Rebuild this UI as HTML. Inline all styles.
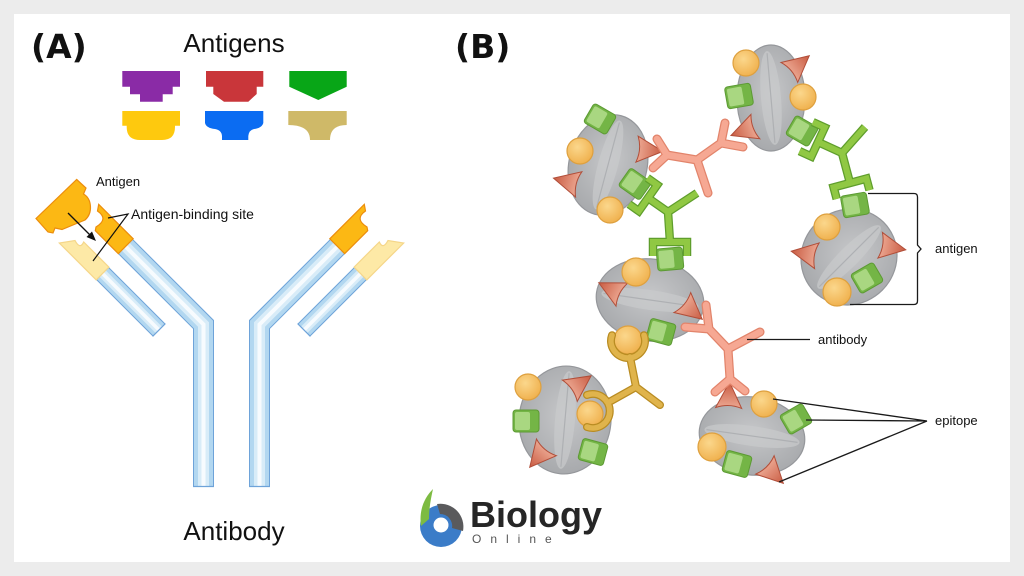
<!DOCTYPE html>
<html><head><meta charset="utf-8">
<style>
html,body{margin:0;padding:0;background:#ececec;}
svg{display:block;}
</style></head>
<body>
<svg width="1024" height="576" viewBox="0 0 1024 576" xmlns="http://www.w3.org/2000/svg">
<defs>
 <radialGradient id="bg" cx="50%" cy="45%" r="60%">
  <stop offset="0" stop-color="#c6c7c9"/><stop offset="1" stop-color="#a5a7aa"/>
 </radialGradient>
 <radialGradient id="yg" cx="40%" cy="35%" r="65%">
  <stop offset="0" stop-color="#fbd78c"/><stop offset="1" stop-color="#f0b250"/>
 </radialGradient>
 <linearGradient id="cg" x1="0" y1="0" x2="1" y2="0">
  <stop offset="0" stop-color="#eca892"/><stop offset="1" stop-color="#c95b42"/>
 </linearGradient>
 <g id="cone"><path d="M-10,-13 L16,0 L-10,13 Q-5,0 -10,-13 Z" fill="url(#cg)" stroke="#b14e39" stroke-width="1"/></g>
 <g id="cube"><rect x="-13" y="-11" width="26" height="22" rx="3" fill="#74b546" stroke="#5c9a33" stroke-width="1"/><rect x="-11" y="-9" width="15" height="18" rx="2" fill="#a9d781"/></g>
 <g id="half">
  <g fill="none" stroke-linejoin="miter">
   <polyline points="125.5,246.5 203.5,324.5 203.5,487" stroke="#6ea3d9" stroke-width="21"/>
   <polyline points="125.5,246.5 203.5,324.5 203.5,487" stroke="#b2d7f0" stroke-width="19"/>
   <polyline points="125.5,246.5 203.5,324.5 203.5,487" stroke="#d8ecf8" stroke-width="11"/>
   <polyline points="125.5,246.5 203.5,324.5 203.5,487" stroke="#f7fbfe" stroke-width="4"/>
   <line x1="193" y1="486.5" x2="214" y2="486.5" stroke="#6ea3d9" stroke-width="1.2"/>
   <line x1="102.5" y1="273.5" x2="159" y2="330" stroke="#6ea3d9" stroke-width="18"/>
   <line x1="102.5" y1="273.5" x2="159" y2="330" stroke="#b2d7f0" stroke-width="16"/>
   <line x1="102.5" y1="273.5" x2="159" y2="330" stroke="#d8ecf8" stroke-width="9"/>
   <line x1="102.5" y1="273.5" x2="159" y2="330" stroke="#f7fbfe" stroke-width="3.5"/>
   <line x1="165.4" y1="323.6" x2="152.6" y2="336.4" stroke="#6ea3d9" stroke-width="1.2"/>
  </g>
  <path d="M118.3,253.7 L133.2,238.8 L98.7,204.3 L97.5,211 Q109,219 96,227 L95.3,230.7 Z" fill="#fcb814" stroke="#ec8d0c" stroke-width="1.2"/>
  <path d="M96.2,279.9 L59.3,243 L75,240.5 Q80,250 83.7,242 L108.9,267.1 Z" fill="#fde9a6" stroke="#f5d689" stroke-width="1.2"/>
 </g>
</defs>

<rect x="14" y="14" width="996" height="548" fill="#ffffff"/>

<!-- ===== Panel A ===== -->
<text x="31" y="58" font-family="DejaVu Sans, 'Liberation Sans', sans-serif" font-weight="bold" font-size="33" fill="#111">(A)</text>
<text x="234" y="52" text-anchor="middle" font-family="'Liberation Sans', sans-serif" font-size="26" fill="#111">Antigens</text>

<path d="M122.3,71 H180 V86.7 H172.7 V94.3 H162.7 V101.7 H140 V94.3 H130 V86.7 H122.3 Z" fill="#8a2ba6"/>
<path d="M206,71 H263.3 V86.7 H256.7 V94 L248.3,101.7 H224 L213.3,94 V86.7 H206 Z" fill="#c9363a"/>
<path d="M289.3,71 H346.7 V86.7 L318.3,100 L289.3,86.7 Z" fill="#08a617"/>
<path d="M122.3,111 H180 V125.7 H175 V127 Q175,140 162,140 H140 Q126.7,140 126.7,127 V125.7 H122.3 Z" fill="#fec90e"/>
<path d="M205,111 H263.3 V123 Q262,128 254,129 Q249,130 248.3,136 V140 H222 V136 Q221.5,130 215,129 Q206,128 205,123 Z" fill="#0b6cf2"/>
<path d="M288.3,111 H346.7 V125 Q330,125 330,140 H310 Q310,125 288.3,125 Z" fill="#cfb968"/>

<use href="#half"/>
<use href="#half" transform="matrix(-1,0,0,1,463,0)"/>

<!-- loose antigen -->
<path d="M36,218.5 L76.7,179.5 L86,188 L83.5,194 C92,199 93,213 85,220 L62,229.5 L55,228 L53,233 L48,232 Z" fill="#fcb814" stroke="#ec8d0c" stroke-width="1.2"/>
<line x1="68" y1="213" x2="91" y2="236" stroke="#111" stroke-width="1.3"/>
<path d="M96,241 L86.5,237 L92,231.5 Z" fill="#111"/>
<path d="M108,218 L128,214 L93,261" fill="none" stroke="#111" stroke-width="1.2"/>
<text x="96" y="186" font-family="'Liberation Sans', sans-serif" font-size="13" fill="#111">Antigen</text>
<text x="131" y="219" font-family="'Liberation Sans', sans-serif" font-size="14" fill="#111">Antigen-binding site</text>

<text x="234" y="540" text-anchor="middle" font-family="'Liberation Sans', sans-serif" font-size="26" fill="#111">Antibody</text>

<!-- ===== Panel B ===== -->
<text x="455" y="58" font-family="DejaVu Sans, 'Liberation Sans', sans-serif" font-weight="bold" font-size="33" fill="#111">(B)</text>

<!-- Blob 1 -->
<g transform="translate(771,98)">
 <ellipse rx="34" ry="53" fill="url(#bg)" stroke="#95979b" stroke-width="1.2"/>
 <ellipse rx="10" ry="47" fill="#c9cacc" opacity="0.7" transform="rotate(-5)"/>
 <line x1="0" y1="-45" x2="0" y2="45" stroke="#aeb0b3" stroke-width="1.2" transform="rotate(-5)"/>
</g>
<use href="#cone" transform="translate(797,66) rotate(-40)"/>
<use href="#cone" transform="translate(746,130) rotate(160)"/>
<use href="#cube" transform="translate(739,96) rotate(-10)"/>
<use href="#cube" transform="translate(802,131) rotate(30)"/>
<circle cx="746" cy="63" r="13" fill="url(#yg)" stroke="#dea03e" stroke-width="1.2"/>
<circle cx="803" cy="97" r="13" fill="url(#yg)" stroke="#dea03e" stroke-width="1.2"/>

<!-- Blob 2 -->
<g transform="translate(608,165) rotate(15)">
 <ellipse rx="39" ry="51" fill="url(#bg)" stroke="#95979b" stroke-width="1.2"/>
 <ellipse rx="10" ry="46" fill="#c9cacc" opacity="0.7"/>
 <line x1="0" y1="-44" x2="0" y2="44" stroke="#aeb0b3" stroke-width="1.2"/>
</g>
<use href="#cone" transform="translate(647,150) rotate(5)"/>
<use href="#cone" transform="translate(569,182) rotate(194)"/>
<use href="#cube" transform="translate(600,119) rotate(30)"/>
<use href="#cube" transform="translate(635,184) rotate(35)"/>
<circle cx="580" cy="151" r="13" fill="url(#yg)" stroke="#dea03e" stroke-width="1.2"/>
<circle cx="610" cy="210" r="13" fill="url(#yg)" stroke="#dea03e" stroke-width="1.2"/>

<!-- Blob 3 -->
<g transform="translate(650,300) rotate(8)">
 <ellipse rx="54" ry="41" fill="url(#bg)" stroke="#95979b" stroke-width="1.2"/>
 <ellipse rx="49" ry="10" fill="#c9cacc" opacity="0.7"/>
 <line x1="-47" y1="0" x2="47" y2="0" stroke="#aeb0b3" stroke-width="1.2"/>
</g>
<use href="#cone" transform="translate(613,290) rotate(207)"/>
<use href="#cone" transform="translate(690,309) rotate(40)"/>
<use href="#cube" transform="translate(670,259) rotate(-5)"/>
<use href="#cube" transform="translate(661,332) rotate(15)"/>
<circle cx="636" cy="272" r="14" fill="url(#yg)" stroke="#dea03e" stroke-width="1.2"/>
<circle cx="628" cy="340" r="14" fill="url(#yg)" stroke="#dea03e" stroke-width="1.2"/>

<!-- Blob 4 -->
<g transform="translate(849,257) rotate(45)">
 <ellipse rx="47" ry="49" fill="url(#bg)" stroke="#95979b" stroke-width="1.2"/>
 <ellipse rx="10" ry="44" fill="#c9cacc" opacity="0.7"/>
 <line x1="0" y1="-42" x2="0" y2="42" stroke="#aeb0b3" stroke-width="1.2"/>
</g>
<use href="#cone" transform="translate(807,254) rotate(190)"/>
<use href="#cone" transform="translate(890,247) rotate(10)"/>
<use href="#cube" transform="translate(855,205) rotate(-10)"/>
<use href="#cube" transform="translate(867,278) rotate(-30)"/>
<circle cx="827" cy="227" r="13" fill="url(#yg)" stroke="#dea03e" stroke-width="1.2"/>
<circle cx="837" cy="292" r="14" fill="url(#yg)" stroke="#dea03e" stroke-width="1.2"/>

<!-- Blob 5 -->
<g transform="translate(565,420) rotate(5)">
 <ellipse rx="46" ry="54" fill="url(#bg)" stroke="#95979b" stroke-width="1.2"/>
 <ellipse rx="10" ry="49" fill="#c9cacc" opacity="0.7"/>
 <line x1="0" y1="-47" x2="0" y2="47" stroke="#aeb0b3" stroke-width="1.2"/>
</g>
<use href="#cone" transform="translate(578,385) rotate(-35)"/>
<use href="#cone" transform="translate(540,455) rotate(130)"/>
<use href="#cube" transform="translate(526,421) rotate(0)"/>
<use href="#cube" transform="translate(593,452) rotate(15)"/>
<circle cx="528" cy="387" r="13" fill="url(#yg)" stroke="#dea03e" stroke-width="1.2"/>
<circle cx="590" cy="414" r="13" fill="url(#yg)" stroke="#dea03e" stroke-width="1.2"/>

<!-- Blob 6 -->
<g transform="translate(752,436) rotate(8)">
 <ellipse rx="53" ry="39" fill="url(#bg)" stroke="#95979b" stroke-width="1.2"/>
 <ellipse rx="48" ry="10" fill="#c9cacc" opacity="0.7"/>
 <line x1="-46" y1="0" x2="46" y2="0" stroke="#aeb0b3" stroke-width="1.2"/>
</g>
<use href="#cone" transform="translate(729,398) rotate(-88)"/>
<use href="#cone" transform="translate(772,472) rotate(45)"/>
<use href="#cube" transform="translate(796,419) rotate(-30)"/>
<use href="#cube" transform="translate(737,464) rotate(15)"/>
<circle cx="764" cy="404" r="13" fill="url(#yg)" stroke="#dea03e" stroke-width="1.2"/>
<circle cx="712" cy="447" r="14" fill="url(#yg)" stroke="#dea03e" stroke-width="1.2"/>

<!-- Salmon antibodies -->
<g fill="none" stroke-linecap="round" stroke-linejoin="round">
 <path d="M708,193 L697,160 L667,155 M657,139 L667,155 L653,168 M697,160 L721,143 M725,123 L721,143 L743,147" stroke="#e2846b" stroke-width="9"/>
 <path d="M708,193 L697,160 L667,155 M657,139 L667,155 L653,168 M697,160 L721,143 M725,123 L721,143 L743,147" stroke="#f6a893" stroke-width="6.5"/>
 <path d="M730,379 L728,349 L709,329 M706,305 L709,329 L685,327 M728,349 L760,332 M715,392 L730,379 L745,391" stroke="#e2846b" stroke-width="9"/>
 <path d="M730,379 L728,349 L709,329 M706,305 L709,329 L685,327 M728,349 L760,332 M715,392 L730,379 L745,391" stroke="#f6a893" stroke-width="6.5"/>
</g>

<!-- Green antibodies -->
<g fill="none" stroke-linecap="butt" stroke-linejoin="miter">
 <path d="M865,127 L842,153 L818,142 M842,153 L850,183 M812.9,122.1 L824.7,127.5 L811.3,156.5 L799.5,151.1 M836.7,199 L833.6,187.4 L866.4,178.6 L869.5,190.2" stroke="#5f9e2c" stroke-width="8.5"/>
 <path d="M865,127 L842,153 L818,142 M842,153 L850,183 M812.9,122.1 L824.7,127.5 L811.3,156.5 L799.5,151.1 M836.7,199 L833.6,187.4 L866.4,178.6 L869.5,190.2" stroke="#90c843" stroke-width="6"/>
 <path d="M697,193 L668,212 L648,198 M668,212 L670,242 M647.4,178 L657.2,184.9 L638.8,211.1 L629,204.2 M653,256 L653,242 L687,242 L687,256" stroke="#5f9e2c" stroke-width="8.5"/>
 <path d="M697,193 L668,212 L648,198 M668,212 L670,242 M647.4,178 L657.2,184.9 L638.8,211.1 L629,204.2 M653,256 L653,242 L687,242 L687,256" stroke="#90c843" stroke-width="6"/>
</g>

<!-- Gold antibody -->
<g fill="none" stroke-linecap="round" stroke-linejoin="round">
 <path d="M630,357 L636,387 L660,405 M636,387 L611,401 M612,335.2 A17,17 0 1 0 644,335.2 M587,395 A17,17 0 1 1 587,427" stroke="#b98c22" stroke-width="8"/>
 <path d="M630,357 L636,387 L660,405 M636,387 L611,401 M612,335.2 A17,17 0 1 0 644,335.2 M587,395 A17,17 0 1 1 587,427" stroke="#e0b44c" stroke-width="5.5"/>
</g>

<!-- Labels B -->
<g fill="none" stroke="#1a1a1a" stroke-width="1.3">
 <path d="M868,193.5 H914 Q917.5,193.5 917.5,197 V245 L921,249 L917.5,253 V301 Q917.5,304.5 914,304.5 H850"/>
 <path d="M747,339.5 H810"/>
 <path d="M773,399 L927,421 M806,420 L927,421 M779,482 L927,421"/>
</g>
<g font-family="'Liberation Sans', sans-serif" font-size="13" fill="#111">
 <text x="935" y="253">antigen</text>
 <text x="818" y="344">antibody</text>
 <text x="935" y="425">epitope</text>
</g>

<!-- Logo -->
<g>
 <circle cx="441" cy="526" r="21" fill="#3b7cc8"/>
 <path d="M437,504 A23,23 0 0 1 463,531 L452,528 A12,12 0 0 0 440,514 Z" fill="#5a5a5c"/>
 <circle cx="441" cy="525" r="7.5" fill="#fff"/>
 <path d="M433,489 C423,499 419,512 421,526 L429,519 C429,508 431,498 433,489 Z" fill="#7dbb42"/>
 <text x="470" y="527" font-family="'Liberation Sans', sans-serif" font-weight="bold" font-size="36" fill="#262626">Biology</text>
 <text x="472" y="543" font-family="'Liberation Sans', sans-serif" font-size="12" letter-spacing="9" fill="#555">Online</text>
</g>
</svg>
</body></html>
